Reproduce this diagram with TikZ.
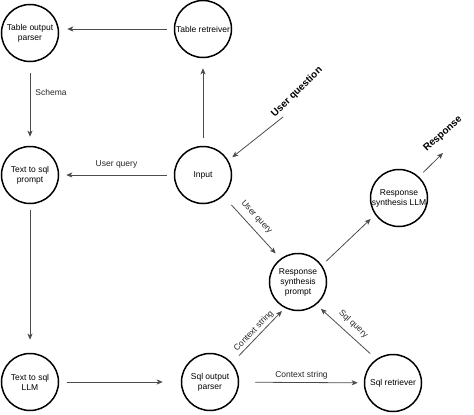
\documentclass[tikz,border=0pt]{standalone}
\usepackage{fontspec}
\setmainfont{Liberation Sans}
\usetikzlibrary{arrows.meta}

\tikzset{
  stage/.style={circle, draw=black, line width=1.5pt, minimum size=57pt, inner sep=0pt,
    align=center, font=\fontsize{8.5}{10}\selectfont},
  flow/.style={-{Stealth[length=6pt,width=5pt,inset=1.5pt]}, draw=black!70, line width=0.8pt,
    shorten <=7pt, shorten >=7pt},
  tag/.style={font=\fontsize{8.5}{10}\selectfont, inner sep=1pt, text=black!85},
  bigtag/.style={font=\bfseries\fontsize{10}{12}\selectfont, inner sep=1pt},
}

\begin{document}
\begin{tikzpicture}[x=1pt, y=-1pt]
    \useasboundingbox (0,0) rectangle (474,415);

    % Top row: table side
    \node[stage] (tout) at (30,33) {Table output\\parser};
    \node[stage] (tret) at (203,29) {Table retreiver};

    % Middle row: prompts and input
    \node[stage] (tprompt) at (30,175) {Text to sql\\prompt};
    \node[stage] (input) at (203,175) {Input};
    \node[stage] (rllm) at (399,198) {Response\\synthesis LLM};
    \node[stage] (rprompt) at (298,282) {Response\\synthesis\\prompt};

    % Bottom row: sql side
    \node[stage] (tllm) at (30,382) {Text to sql\\LLM};
    \node[stage] (sparser) at (210,382) {Sql output\\parser};
    \node[stage] (sret) at (393,383) {Sql retriever};

    % Free ends: question in, response out
    \coordinate (qin) at (283,117);
    \coordinate (rout) at (443,153);
    \node[bigtag, rotate=44] (qlab) at (297,92) {User question};
    \node[bigtag, rotate=42] (rlab) at (443,134) {Response};

    % Table path
    \draw[flow, shorten >=8pt] (tret.west) -- (tret.west -| tout.east);
    \draw[flow, shorten <=8pt, shorten >=10pt] (input) -- (tret);
    \draw[flow, shorten <=11pt, shorten >=9pt] (tout) -- node[tag, pos=0.36, right=4pt] {Schema} (tprompt);

    % Text to sql path
    \draw[flow] (input) -- node[tag, midway, above=5pt] {User query} (tprompt);
    \draw[flow, shorten <=6pt, shorten >=13pt] (tprompt) -- (tllm);
    \draw[flow, shorten <=8pt, shorten >=18pt] (tllm) -- (sparser);
    \draw[flow, shorten <=16pt, shorten >=6pt] (sparser) -- node[tag, midway, above=2pt] {Context string} (sret);

    % Into the response prompt
    \draw[flow, shorten <=10pt, shorten >=4pt] (sparser.41) -- node[tag, sloped, midway, above=1pt] {Context string} (rprompt.243);
    \draw[flow, shorten <=8pt, shorten >=6pt] (sret.125) -- node[tag, sloped, midway, above=5pt] {Sql query} (rprompt.309);
    \draw[flow, shorten <=12pt] (input.314) -- node[tag, sloped, pos=0.45, above=5pt] {User query} (rprompt.127);
    \draw[flow, shorten <=6pt, shorten >=6pt] (rprompt.35) -- (rllm.215);

    % In and out
    \draw[flow, shorten <=0pt, shorten >=5pt] (qin) -- (input.30);
    \draw[flow, shorten <=6pt, shorten >=0pt] (rllm.47) -- (rout);

\end{tikzpicture}
\end{document}
